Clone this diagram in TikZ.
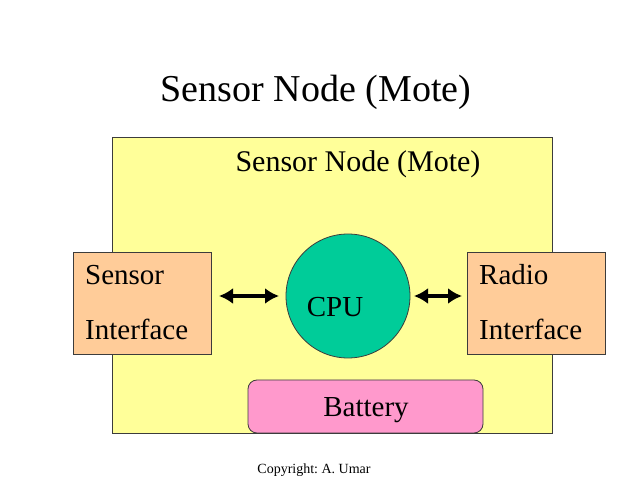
\documentclass[tikz,border=0pt]{standalone}
\usepackage{fontspec}
\setmainfont{Liberation Serif}
\usetikzlibrary{arrows.meta}
\frenchspacing
\definecolor{moteyellow}{RGB}{255,255,153}
\definecolor{peach}{RGB}{255,204,153}
\definecolor{cpugreen}{RGB}{0,204,153}
\definecolor{battpink}{RGB}{255,153,204}
\definecolor{edgegray}{RGB}{60,60,60}
\tikzset{
  ifacebox/.style={draw=edgegray, line width=0.8pt, fill=peach, minimum width=138pt, minimum height=102pt, inner sep=0pt},
  ifacetext/.style={font=\fontsize{29}{29}\selectfont, anchor=base west, inner sep=0pt},
  biarrow/.style={{Latex[length=14pt,width=16pt]}-{Latex[length=14pt,width=16pt]}, line width=3.5pt, black}
}
\begin{document}
\begin{tikzpicture}[x=1pt,y=-1pt]
\useasboundingbox (0,0) rectangle (638,478);
\node[font=\fontsize{38}{38}\selectfont, inner sep=0pt] (title) at (316,92) {Sensor Node (Mote)};
\node[draw=edgegray, line width=0.8pt, fill=moteyellow, minimum width=440pt, minimum height=296pt, inner sep=0pt] (mote) at (332,285) {};
\node[font=\fontsize{30}{30}\selectfont, inner sep=0pt] (motelabel) at (358,164) {Sensor Node (Mote)};
\node[ifacebox] (sensor) at (142.5,303) {};
\node[ifacetext] (sensorA) at (85,285) {Sensor};
\node[ifacetext] (sensorB) at (85,340) {Interface};
\node[ifacebox] (radio) at (536.5,303) {};
\node[ifacetext] (radioA) at (479,285) {Radio};
\node[ifacetext] (radioB) at (479,340) {Interface};
\node[circle, draw=edgegray, line width=0.8pt, fill=cpugreen, minimum size=124pt, inner sep=0pt] (cpu) at (348,296) {};
\node[font=\fontsize{29}{29}\selectfont, inner sep=0pt] (cputext) at (335,307) {CPU};
\node[draw=edgegray, line width=0.8pt, fill=battpink, rounded corners=9pt, minimum width=235pt, minimum height=53pt, inner sep=0pt] (battery) at (365.5,406.5) {};
\node[font=\fontsize{29}{29}\selectfont, inner sep=0pt] (batterytext) at (366,410) {Battery};
\node[font=\fontsize{14}{14}\selectfont, inner sep=0pt] (copy) at (314,470) {Copyright: A. Umar};
\coordinate (la) at (219,296);
\coordinate (lb) at (279,296);
\coordinate (ra) at (414,296);
\coordinate (rb) at (462,296);
\draw[biarrow] (la) -- (lb);
\draw[biarrow] (ra) -- (rb);
\end{tikzpicture}
\end{document}
